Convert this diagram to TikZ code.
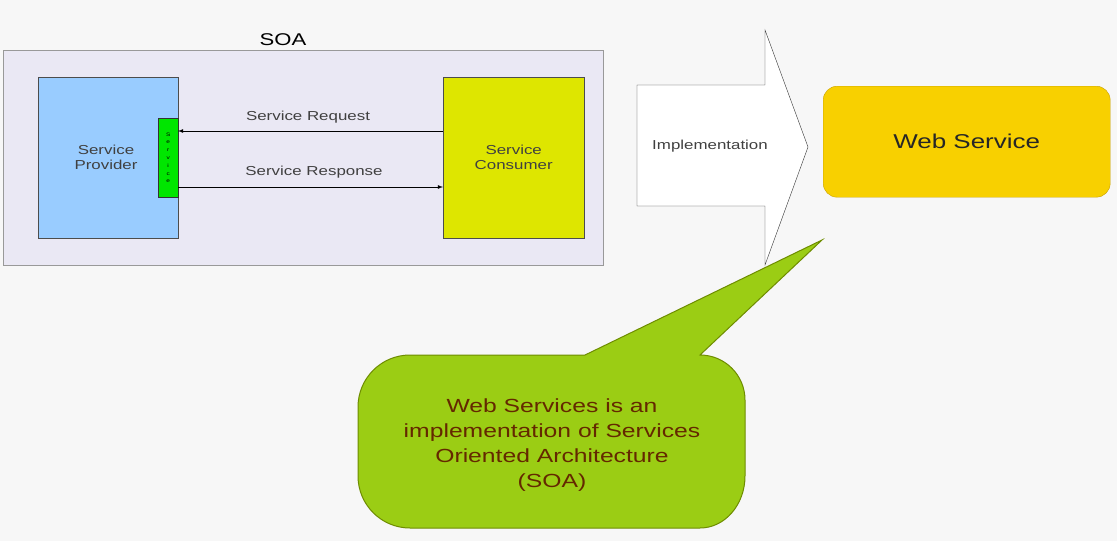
\documentclass[tikz,border=0pt]{standalone}
\usepackage{fontspec}
\setmainfont[FakeStretch=1.3]{Liberation Sans}
\begin{document}
\begin{tikzpicture}[x=1pt,y=-1pt,
  lbl/.style={font=\fontsize{13}{15}\selectfont, text=black!75},
  arr/.style={-latex, line width=0.8pt}]
\useasboundingbox[fill=white] (0,0) rectangle (1117,541);
\fill[black!3] (0,0) rectangle (1117,541);
\node[draw=gray!80, fill={rgb,255:red,234;green,232;blue,244}, line width=1pt, minimum width=600, minimum height=215, anchor=north west, inner sep=0] (soa) at (3,50) {};
\node[font=\fontsize{17}{20}\selectfont] (soat) at (283,40) {SOA};
\node[draw=black!70, fill={rgb,255:red,153;green,204;blue,255}, minimum width=140, minimum height=161, anchor=north west, inner sep=0, align=center] (prov) at (38,77) {};
\node[lbl, align=center] (provt) at (106,157) {Service\\Provider};
\node[draw=black!80, fill={rgb,255:red,0;green,230;blue,0}, minimum width=20, minimum height=79, anchor=north west, inner sep=0, font=\fontsize{5}{7.8}\selectfont, align=center] (svc) at (158,118) {S\\e\\r\\v\\i\\c\\e};
\node[draw=black!70, fill={rgb,255:red,222;green,230;blue,0}, minimum width=141, minimum height=161, anchor=north west, inner sep=0, lbl, align=center] (cons) at (443,77) {Service\\Consumer};
\coordinate (r1) at (443,131); \coordinate (r2) at (178,131);
\coordinate (s1) at (178,187); \coordinate (s2) at (443,187);
\draw[arr] (r1) -- (r2);
\draw[arr] (s1) -- (s2);
\node[lbl, anchor=south] (req) at (308,127) {Service Request};
\node[lbl, anchor=south] (resp) at (314,182) {Service Response};
\draw[fill=white, draw=black!80] (637,85) -- (765,85) -- (765,30) -- (808,147) -- (765,265) -- (765,206) -- (637,206) -- cycle;
\node[lbl] (impl) at (710,146) {Implementation};
\node[draw={rgb,255:red,200;green,160;blue,0}, fill={rgb,255:red,248;green,208;blue,0}, rounded corners=14, minimum width=287, minimum height=111, anchor=north west, inner sep=0, font=\fontsize{20}{23}\selectfont, text=black!85] (ws) at (823,86) {Web Service};
\coordinate (tip) at (822,240);
\draw[draw={rgb,255:red,110;green,140;blue,0}, fill={rgb,255:red,155;green,205;blue,20}, line width=1pt]
  (410,355) -- (585,355) -- (tip) -- (700,355)
  arc[start angle=90, end angle=0, x radius=45, y radius=-45] -- (745,476)
  arc[start angle=0, end angle=-90, x radius=45, y radius=-52] -- (410,528)
  arc[start angle=270, end angle=180, x radius=52, y radius=-52] -- (358,407)
  arc[start angle=180, end angle=90, x radius=52, y radius=-52] -- cycle;
\node[font=\fontsize{19}{25}\selectfont, text={rgb,255:red,100;green,40;blue,0}, align=center] (co) at (552,445) {Web Services is an\\implementation of Services\\Oriented Architecture\\(SOA)};
\end{tikzpicture}
\end{document}
